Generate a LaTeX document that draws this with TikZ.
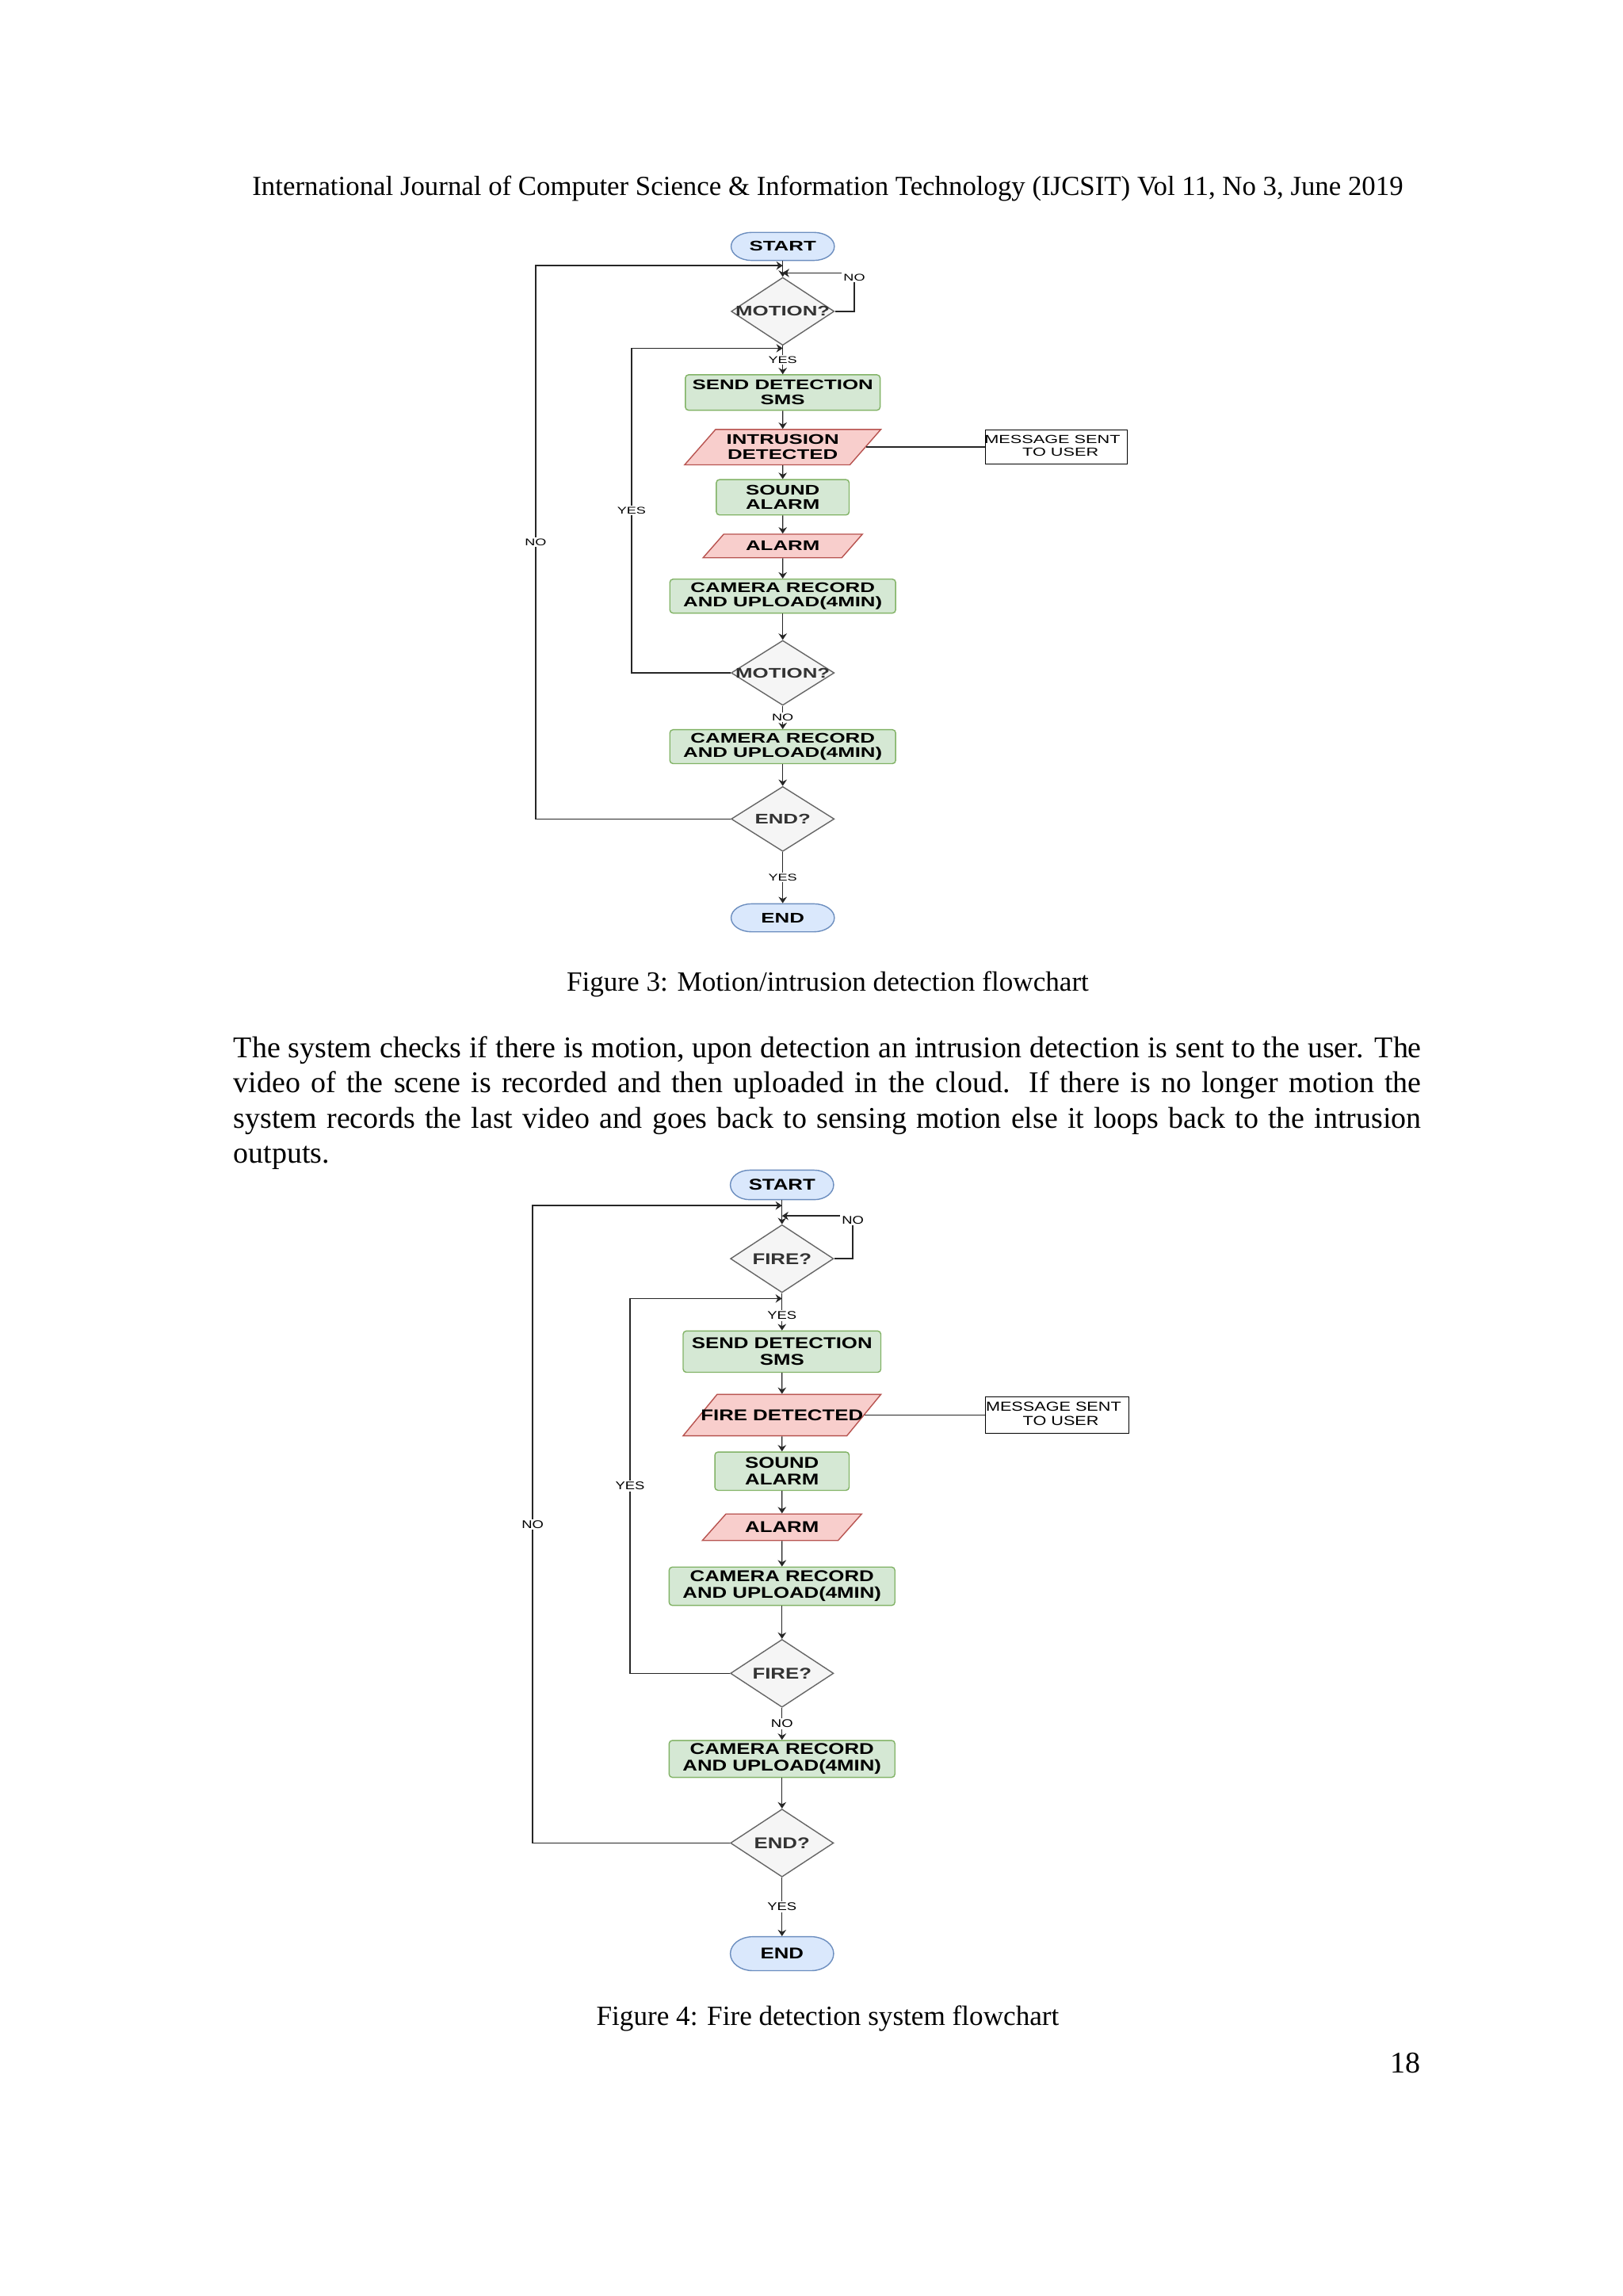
\documentclass[tikz,border=0pt]{standalone}
\usepackage{fontspec}
\setmainfont{Liberation Serif}
\setsansfont{Liberation Sans}
\usetikzlibrary{shapes.geometric,shapes.misc,arrows.meta}
\newdimen\pxu \pxu=0.18618mm
\newdimen\cornr \cornr=0.4mm
\definecolor{termfill}{HTML}{DAE8FC}
\definecolor{termline}{HTML}{6C8EBF}
\definecolor{procfill}{HTML}{D5E8D4}
\definecolor{procline}{HTML}{82B366}
\definecolor{iofill}{HTML}{F8CECC}
\definecolor{ioline}{HTML}{B85450}
\definecolor{decfill}{HTML}{F5F5F5}
\definecolor{decline}{HTML}{666666}
\definecolor{dectext}{HTML}{333333}
\tikzset{ term_style/.style = { rounded rectangle % start / end
        , draw = termline
        , fill = termfill
        , inner sep = 0pt
        , xscale = \fcx
        , font = \sffamily\bfseries\fontsize{\fcs}{\fcb}\selectfont
        }
        , dec_style/.style = { diamond % question
        , draw = decline
        , fill = decfill
        , text = dectext
        , inner sep = 0pt
        , xscale = \fcx
        , font = \sffamily\bfseries\fontsize{\fcs}{\fcb}\selectfont
        }
        , proc_style/.style = { rectangle % action
        , rounded corners = \cornr
        , draw = procline
        , fill = procfill
        , inner sep = 0pt
        , align = center
        , xscale = \fcx
        , font = \sffamily\bfseries\fontsize{\fcs}{\fcb}\selectfont
        }
        , io_style/.style = { draw = ioline % parallelogram
        , fill = iofill
        , line width = 0.4pt
        }
        , io_text/.style = { rectangle % text on parallelogram
        , inner sep = 0pt
        , align = center
        , xscale = \fcx
        , font = \sffamily\bfseries\fontsize{\fcs}{\fcb}\selectfont
        }
        , note_style/.style = { rectangle % message box
        , draw = black
        , fill = white
        , inner sep = 0pt
        , xscale = \fcx
        , font = \sffamily\fontsize{\fms}{\fmb}\selectfont
        }
        }

\begin{document}
\begin{tikzpicture}[x=\pxu, y=-\pxu, line width=0.4pt,
        edge_style/.style={draw=black!85, line width=0.4pt, -{Stealth[length=2.3pt,width=3pt]}},
        line_style/.style={draw=black!85, line width=0.4pt},
        edge_label/.style={fill=white, inner sep=0.5pt, xscale=\fcx, font=\sffamily\fontsize{\fls}{\fls}\selectfont},
        page_text/.style={inner sep=0pt, font=\fontsize{10.8}{12.6}\selectfont},
        caption_text/.style={inner sep=0pt, font=\fontsize{10}{12}\selectfont}]
        \fill[white] (0,0) rectangle (1100,1556);
        \useasboundingbox (0,0) rectangle (1100,1556);

        % page text
        \node [page_text] (head) at (561,128) {\resizebox{780\pxu}{!}{International Journal of Computer Science \& Information Technology (IJCSIT) Vol 11, No 3, June 2019}};
        \node [caption_text] (cap3) at (561,667) {Figure 3: Motion/intrusion detection flowchart};
        \node [page_text, anchor=north west, text width=805\pxu, align=justify] (para) at (158,702) {The system checks if there is motion, upon detection an intrusion detection is sent to the user. The\linebreak video of the scene is recorded and then uploaded in the cloud. If there is no longer motion the\linebreak system records the last video and goes back to sensing motion else it loops back to the intrusion\linebreak outputs.};
        \node [caption_text] (cap4) at (561,1368) {Figure 4: Fire detection system flowchart};
        \node [page_text, anchor=east] (pageno) at (963,1398) {18};

        % figure 3
        \begin{scope}
        \def\fcx{1.47}\def\fcs{5}\def\fcb{5.3}\def\fls{3.5}\def\fms{4.2}\def\fmb{4.6}
        \node [term_style, minimum width=70*\pxu/\fcx, minimum height=19*\pxu] (start3) at (530.5,167) {START};
        \node [dec_style, minimum width=70*\pxu/\fcx, minimum height=46*\pxu] (mot3a) at (530.5,211) {\makebox[0pt]{MOTION?}};
        \node [proc_style, minimum width=132*\pxu/\fcx, minimum height=24*\pxu] (sms3) at (530.5,266) {SEND DETECTION\\SMS};
        \draw [io_style] (464,315) -- (485,291) -- (597,291) -- (576,315) -- cycle;
        \node [io_text, minimum width=112*\pxu/\fcx, minimum height=24*\pxu] (intr3) at (530.5,303) {INTRUSION\\DETECTED};
        \node [note_style, minimum width=96*\pxu/\fcx, minimum height=23*\pxu] (msg3) at (716,303) {\makebox[0pt]{\hspace*{-2pt}\begin{tabular}{@{}c@{}}MESSAGE SENT\\\hspace*{4pt}TO USER\end{tabular}}};
        \node [proc_style, minimum width=90*\pxu/\fcx, minimum height=24*\pxu] (sound3) at (530.5,337) {SOUND\\ALARM};
        \draw [io_style] (476.5,378) -- (490.5,362) -- (584.5,362) -- (570.5,378) -- cycle;
        \node [io_text, minimum width=94*\pxu/\fcx, minimum height=16*\pxu] (alarm3) at (530.5,370) {ALARM};
        \node [proc_style, minimum width=153*\pxu/\fcx, minimum height=23*\pxu] (cam3a) at (530.5,404) {CAMERA RECORD\\AND UPLOAD(4MIN)};
        \node [dec_style, minimum width=70*\pxu/\fcx, minimum height=44*\pxu] (mot3b) at (530.5,456) {\makebox[0pt]{MOTION?}};
        \node [proc_style, minimum width=153*\pxu/\fcx, minimum height=23*\pxu] (cam3b) at (530.5,506) {CAMERA RECORD\\AND UPLOAD(4MIN)};
        \node [dec_style, minimum width=70*\pxu/\fcx, minimum height=44*\pxu] (end3) at (530.5,555) {\makebox[0pt]{END?}};
        \node [term_style, minimum width=70*\pxu/\fcx, minimum height=19*\pxu] (stop3) at (530.5,622) {END};
        \coordinate (j3a) at (530.5,180);
        \coordinate (j3b) at (530.5,185);
        \coordinate (j3c) at (530.5,236);

        \draw [edge_style] (start3.south) -- (mot3a.north);
        \draw [edge_style] (mot3a.east) -- (579,211) -- (579,185) -- (j3b);
        \node [edge_label] (no3a) at (579,188) {NO};
        \draw [edge_style] (mot3a.south) -- node [edge_label] {YES} (sms3.north);
        \draw [edge_style] (sms3) -- (intr3);
        \draw [line_style] (intr3.east) -- (msg3.west);
        \draw [edge_style] (intr3) -- (sound3);
        \draw [edge_style] (sound3) -- (alarm3);
        \draw [edge_style] (alarm3) -- (cam3a);
        \draw [edge_style] (cam3a.south) -- (mot3b.north);
        \draw [edge_style] (mot3b.south) -- node [edge_label] {NO} (cam3b.north);
        \draw [edge_style] (mot3b.west) -- (428,456) -- node [edge_label] {YES} (428,236) -- (j3c);
        \draw [edge_style] (cam3b.south) -- (end3.north);
        \draw [edge_style] (end3.west) -- (363,555) -- node [edge_label] {NO} (363,180) -- (j3a);
        \draw [edge_style] (end3.south) -- node [edge_label] {YES} (stop3.north);
        \end{scope}

        % figure 4
        \begin{scope}
        \def\fcx{1.31}\def\fcs{5.6}\def\fcb{6}\def\fls{4}\def\fms{4.7}\def\fmb{5.1}
        \node [term_style, minimum width=70*\pxu/\fcx, minimum height=20*\pxu] (start4) at (530,803) {START};
        \node [dec_style, minimum width=70*\pxu/\fcx, minimum height=46*\pxu] (fire4a) at (530,853) {\makebox[0pt]{FIRE?}};
        \node [proc_style, minimum width=134*\pxu/\fcx, minimum height=28*\pxu] (sms4) at (530,916) {SEND DETECTION\\SMS};
        \draw [io_style] (463,973) -- (486,945) -- (597,945) -- (574,973) -- cycle;
        \node [io_text, minimum width=111*\pxu/\fcx, minimum height=28*\pxu] (fdet4) at (530,959) {FIRE DETECTED};
        \node [note_style, minimum width=97*\pxu/\fcx, minimum height=25*\pxu] (msg4) at (716.5,959) {\makebox[0pt]{\hspace*{-2pt}\begin{tabular}{@{}c@{}}MESSAGE SENT\\\hspace*{4pt}TO USER\end{tabular}}};
        \node [proc_style, minimum width=91*\pxu/\fcx, minimum height=26*\pxu] (sound4) at (530,997) {SOUND\\ALARM};
        \draw [io_style] (476,1044) -- (492,1026) -- (584,1026) -- (568,1044) -- cycle;
        \node [io_text, minimum width=92*\pxu/\fcx, minimum height=18*\pxu] (alarm4) at (530,1035) {ALARM};
        \node [proc_style, minimum width=153*\pxu/\fcx, minimum height=26*\pxu] (cam4a) at (530,1075) {CAMERA RECORD\\AND UPLOAD(4MIN)};
        \node [dec_style, minimum width=70*\pxu/\fcx, minimum height=46*\pxu] (fire4b) at (530,1134) {\makebox[0pt]{FIRE?}};
        \node [proc_style, minimum width=153*\pxu/\fcx, minimum height=25*\pxu] (cam4b) at (530,1192) {CAMERA RECORD\\AND UPLOAD(4MIN)};
        \node [dec_style, minimum width=70*\pxu/\fcx, minimum height=46*\pxu] (end4) at (530,1249) {\makebox[0pt]{END?}};
        \node [term_style, minimum width=70*\pxu/\fcx, minimum height=23*\pxu] (stop4) at (530,1324) {END};
        \coordinate (j4a) at (530,817);
        \coordinate (j4b) at (530,824);
        \coordinate (j4c) at (530,880);

        \draw [edge_style] (start4.south) -- (fire4a.north);
        \draw [edge_style] (fire4a.east) -- (578,853) -- (578,824) -- (j4b);
        \node [edge_label] (no4a) at (578,827) {NO};
        \draw [edge_style] (fire4a.south) -- node [edge_label, pos=0.6] {YES} (sms4.north);
        \draw [edge_style] (sms4) -- (fdet4);
        \draw [line_style] (fdet4.east) -- (msg4.west);
        \draw [edge_style] (fdet4) -- (sound4);
        \draw [edge_style] (sound4) -- (alarm4);
        \draw [edge_style] (alarm4) -- (cam4a);
        \draw [edge_style] (cam4a.south) -- (fire4b.north);
        \draw [edge_style] (fire4b.south) -- node [edge_label] {NO} (cam4b.north);
        \draw [edge_style] (fire4b.west) -- (427,1134) -- node [edge_label] {YES} (427,880) -- (j4c);
        \draw [edge_style] (cam4b.south) -- (end4.north);
        \draw [edge_style] (end4.west) -- (361,1249) -- node [edge_label] {NO} (361,817) -- (j4a);
        \draw [edge_style] (end4.south) -- node [edge_label] {YES} (stop4.north);
        \end{scope}
\end{tikzpicture}
\end{document}
